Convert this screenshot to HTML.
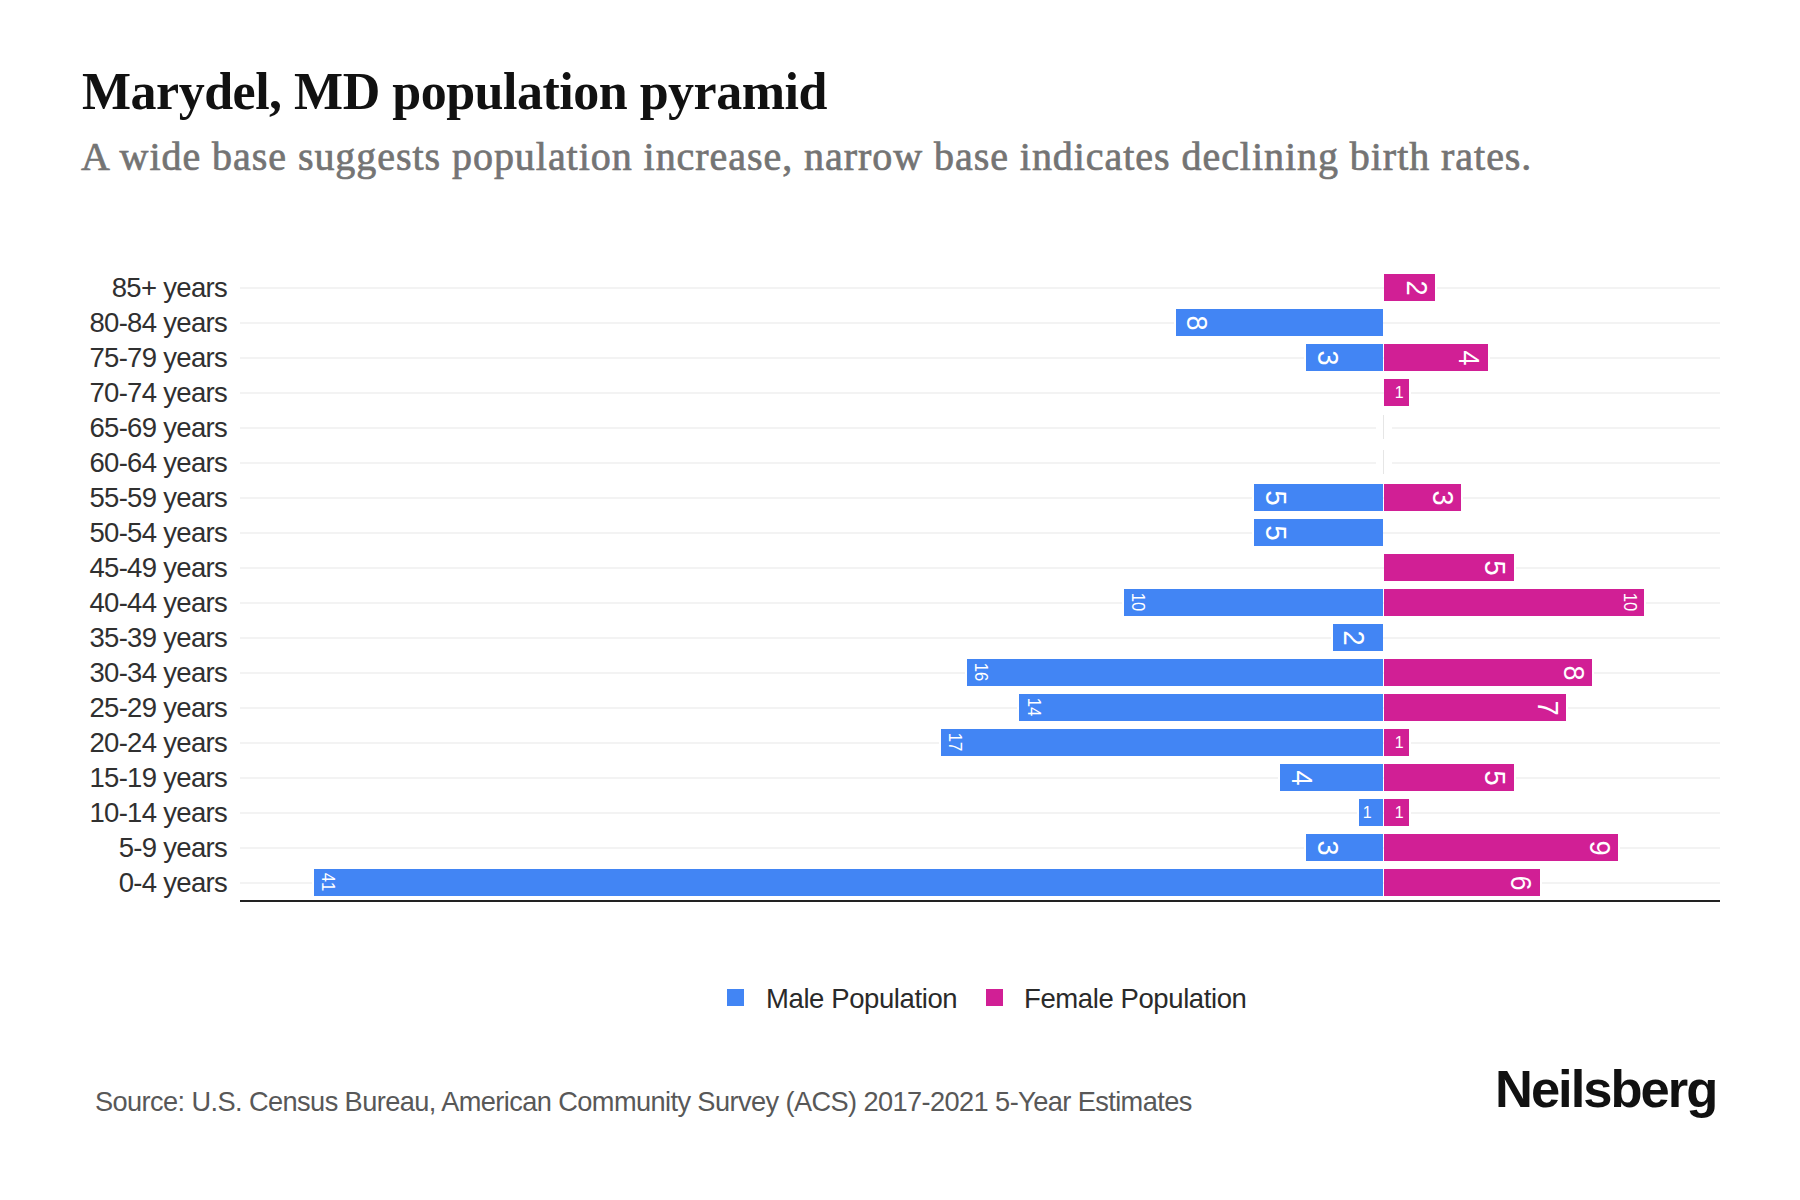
<!DOCTYPE html>
<html><head><meta charset="utf-8"><style>
html,body{margin:0;padding:0;background:#fff;}
body{width:1800px;height:1200px;position:relative;overflow:hidden;}
.t{position:absolute;left:82px;top:62px;letter-spacing:-0.5px;font-family:"Liberation Serif",serif;font-weight:bold;font-size:52px;line-height:60px;color:#111;white-space:nowrap;transform-origin:0 0;}
.st{position:absolute;left:81px;top:134px;font-family:"Liberation Serif",serif;font-size:40px;line-height:46px;color:#747474;letter-spacing:0.95px;-webkit-text-stroke:0.7px #747474;white-space:nowrap;transform-origin:0 0;}
.yl{position:absolute;right:1573px;width:200px;text-align:right;font-family:"Liberation Sans",sans-serif;font-size:27.5px;letter-spacing:-0.7px;line-height:32px;color:#303030;white-space:nowrap;}
.gl{position:absolute;left:240px;width:1479.5px;height:2px;background:#f3f3f3;}
.zl{position:absolute;left:1383.2px;width:1.2px;height:24px;background:#e6e6e6;}
.zg{position:absolute;left:1376px;width:16px;height:5px;background:#fff;}
.ax{position:absolute;left:240px;top:899.6px;width:1479.5px;height:2px;background:#222;}
.bar{position:absolute;height:26.7px;}
.m{background:#4285f4;box-shadow:-2px 0 0 #fff;}
.f{background:#d11f95;box-shadow:2px 0 0 #fff;}
.rot{position:absolute;font-family:"Liberation Sans",sans-serif;color:#fff;line-height:1;white-space:nowrap;transform:translate(-50%,-50%) rotate(90deg) scaleX(0.9);}
.l1{position:absolute;width:20px;font-family:"Liberation Sans",sans-serif;font-size:16px;line-height:18px;color:#fff;}
.l1.r{text-align:right;}
.lg{position:absolute;top:989px;width:17px;height:17px;}
.lt{position:absolute;top:983px;font-family:"Liberation Sans",sans-serif;font-size:27.5px;letter-spacing:-0.4px;line-height:32px;color:#2a2a2a;white-space:nowrap;}
.src{position:absolute;left:95px;top:1086px;font-family:"Liberation Sans",sans-serif;font-size:27.2px;line-height:32px;color:#585858;letter-spacing:-0.59px;white-space:nowrap;}
.logo{position:absolute;left:1495px;top:1060.5px;font-family:"Liberation Sans",sans-serif;font-weight:bold;font-size:52.5px;line-height:56px;color:#111;white-space:nowrap;letter-spacing:-2px;}
</style></head><body>
<div class="t">Marydel, MD population pyramid</div>
<div class="st">A wide base suggests population increase, narrow base indicates declining birth rates.</div>
<div class="yl" style="top:271.8px">85+ years</div>
<div class="gl" style="top:286.8px"></div>
<div class="bar f" style="left:1384.2px;top:274.0px;width:51.1px"></div>
<div class="rot" style="left:1416.8px;top:288.0px;font-size:30px">2</div>
<div class="yl" style="top:306.8px">80-84 years</div>
<div class="gl" style="top:321.8px"></div>
<div class="bar m" style="left:1175.8px;top:309.0px;width:207.2px"></div>
<div class="rot" style="left:1197.3px;top:323.0px;font-size:30px">8</div>
<div class="yl" style="top:341.8px">75-79 years</div>
<div class="gl" style="top:356.8px"></div>
<div class="bar m" style="left:1306.4px;top:344.0px;width:76.6px"></div>
<div class="rot" style="left:1327.9px;top:358.0px;font-size:30px">3</div>
<div class="bar f" style="left:1384.2px;top:344.0px;width:103.4px"></div>
<div class="rot" style="left:1469.1px;top:358.0px;font-size:30px">4</div>
<div class="yl" style="top:376.8px">70-74 years</div>
<div class="gl" style="top:391.8px"></div>
<div class="bar f" style="left:1384.2px;top:379.0px;width:24.9px"></div>
<div class="l1 r" style="left:1383.6px;top:384.3px">1</div>
<div class="yl" style="top:411.8px">65-69 years</div>
<div class="gl" style="top:426.8px"></div>
<div class="zg" style="top:425.3px"></div>
<div class="zl" style="top:415.0px"></div>
<div class="yl" style="top:446.8px">60-64 years</div>
<div class="gl" style="top:461.8px"></div>
<div class="zg" style="top:460.3px"></div>
<div class="zl" style="top:450.0px"></div>
<div class="yl" style="top:481.8px">55-59 years</div>
<div class="gl" style="top:496.8px"></div>
<div class="bar m" style="left:1254.2px;top:484.0px;width:128.8px"></div>
<div class="rot" style="left:1275.7px;top:498.0px;font-size:30px">5</div>
<div class="bar f" style="left:1384.2px;top:484.0px;width:77.2px"></div>
<div class="rot" style="left:1442.9px;top:498.0px;font-size:30px">3</div>
<div class="yl" style="top:516.8px">50-54 years</div>
<div class="gl" style="top:531.8px"></div>
<div class="bar m" style="left:1254.2px;top:519.0px;width:128.8px"></div>
<div class="rot" style="left:1275.7px;top:533.0px;font-size:30px">5</div>
<div class="yl" style="top:551.8px">45-49 years</div>
<div class="gl" style="top:566.8px"></div>
<div class="bar f" style="left:1384.2px;top:554.0px;width:129.5px"></div>
<div class="rot" style="left:1495.2px;top:568.0px;font-size:30px">5</div>
<div class="yl" style="top:586.8px">40-44 years</div>
<div class="gl" style="top:601.8px"></div>
<div class="bar m" style="left:1123.6px;top:589.0px;width:259.4px"></div>
<div class="rot" style="left:1138.1px;top:602.3px;font-size:18.5px">10</div>
<div class="bar f" style="left:1384.2px;top:589.0px;width:260.2px"></div>
<div class="rot" style="left:1630.4px;top:602.3px;font-size:18.5px">10</div>
<div class="yl" style="top:621.8px">35-39 years</div>
<div class="gl" style="top:636.8px"></div>
<div class="bar m" style="left:1332.6px;top:624.0px;width:50.4px"></div>
<div class="rot" style="left:1354.1px;top:638.0px;font-size:30px">2</div>
<div class="yl" style="top:656.8px">30-34 years</div>
<div class="gl" style="top:671.8px"></div>
<div class="bar m" style="left:966.9px;top:659.0px;width:416.1px"></div>
<div class="rot" style="left:981.4px;top:672.3px;font-size:18.5px">16</div>
<div class="bar f" style="left:1384.2px;top:659.0px;width:207.9px"></div>
<div class="rot" style="left:1573.6px;top:673.0px;font-size:30px">8</div>
<div class="yl" style="top:691.8px">25-29 years</div>
<div class="gl" style="top:706.8px"></div>
<div class="bar m" style="left:1019.1px;top:694.0px;width:363.9px"></div>
<div class="rot" style="left:1033.6px;top:707.3px;font-size:18.5px">14</div>
<div class="bar f" style="left:1384.2px;top:694.0px;width:181.8px"></div>
<div class="rot" style="left:1547.5px;top:708.0px;font-size:30px">7</div>
<div class="yl" style="top:726.8px">20-24 years</div>
<div class="gl" style="top:741.8px"></div>
<div class="bar m" style="left:940.8px;top:729.0px;width:442.2px"></div>
<div class="rot" style="left:955.3px;top:742.3px;font-size:18.5px">17</div>
<div class="bar f" style="left:1384.2px;top:729.0px;width:24.9px"></div>
<div class="l1 r" style="left:1383.6px;top:734.3px">1</div>
<div class="yl" style="top:761.8px">15-19 years</div>
<div class="gl" style="top:776.8px"></div>
<div class="bar m" style="left:1280.3px;top:764.0px;width:102.7px"></div>
<div class="rot" style="left:1301.8px;top:778.0px;font-size:30px">4</div>
<div class="bar f" style="left:1384.2px;top:764.0px;width:129.5px"></div>
<div class="rot" style="left:1495.2px;top:778.0px;font-size:30px">5</div>
<div class="yl" style="top:796.8px">10-14 years</div>
<div class="gl" style="top:811.8px"></div>
<div class="bar m" style="left:1358.7px;top:799.0px;width:24.3px"></div>
<div class="l1" style="left:1362.7px;top:804.3px">1</div>
<div class="bar f" style="left:1384.2px;top:799.0px;width:24.9px"></div>
<div class="l1 r" style="left:1383.6px;top:804.3px">1</div>
<div class="yl" style="top:831.8px">5-9 years</div>
<div class="gl" style="top:846.8px"></div>
<div class="bar m" style="left:1306.4px;top:834.0px;width:76.6px"></div>
<div class="rot" style="left:1327.9px;top:848.0px;font-size:30px">3</div>
<div class="bar f" style="left:1384.2px;top:834.0px;width:234.1px"></div>
<div class="rot" style="left:1599.8px;top:848.0px;font-size:30px">9</div>
<div class="yl" style="top:866.8px">0-4 years</div>
<div class="gl" style="top:881.8px"></div>
<div class="bar m" style="left:313.9px;top:869.0px;width:1069.1px"></div>
<div class="rot" style="left:328.4px;top:882.3px;font-size:18.5px">41</div>
<div class="bar f" style="left:1384.2px;top:869.0px;width:155.6px"></div>
<div class="rot" style="left:1521.3px;top:883.0px;font-size:30px">6</div>
<div class="ax"></div>
<div class="lg" style="left:727px;background:#4285f4"></div>
<div class="lt" style="left:766px">Male Population</div>
<div class="lg" style="left:986px;background:#d11f95"></div>
<div class="lt" style="left:1024px">Female Population</div>
<div class="src">Source: U.S. Census Bureau, American Community Survey (ACS) 2017-2021 5-Year Estimates</div>
<div class="logo">Neilsberg</div>
</body></html>
